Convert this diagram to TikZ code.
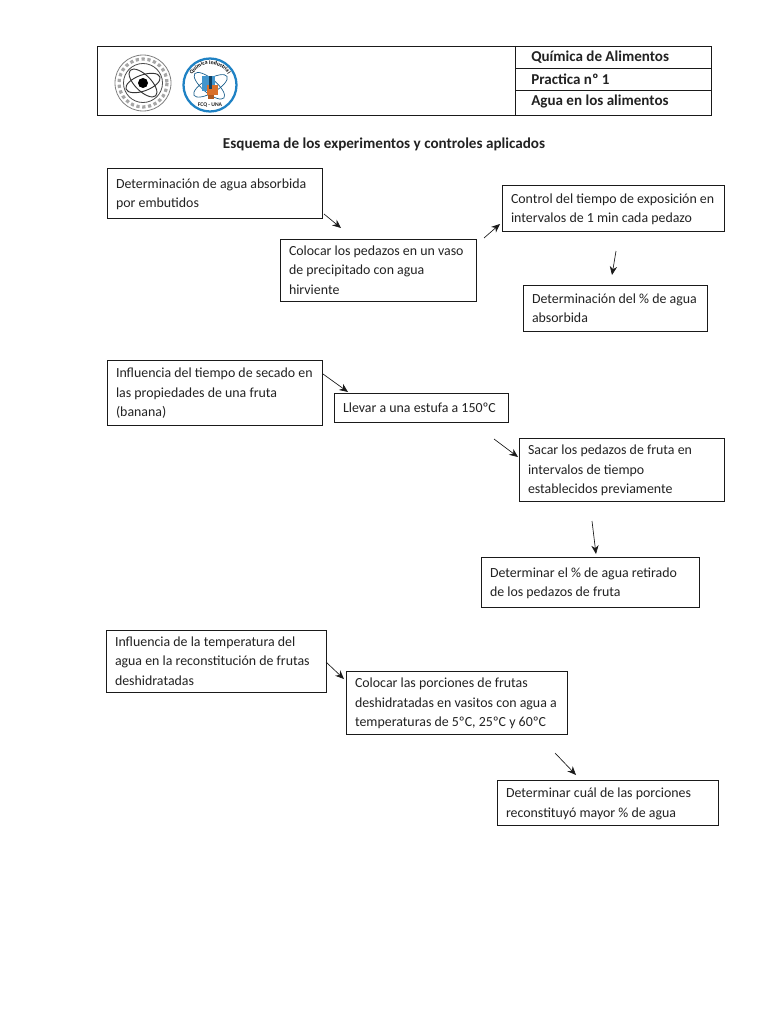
\documentclass[tikz,border=0pt]{standalone}
\usepackage{fontspec}
\setmainfont{Carlito}
\usetikzlibrary{arrows.meta,decorations.text}
\definecolor{lineblk}{HTML}{1A1A1A}
\definecolor{txt}{HTML}{222222}
\definecolor{logoblue}{HTML}{1F82C4}
\definecolor{logoorange}{HTML}{D9702A}
\tikzset{
  flowbox/.style={draw=lineblk,line width=0.6pt,fill=white,align=left,text=txt,inner sep=0pt,font=\fontsize{10.42}{14.6}\selectfont},
  flowarrow/.style={draw=lineblk,line width=0.5pt,-{Stealth[length=6.5pt,width=5.5pt]}},
  headcell/.style={anchor=west,inner sep=0pt,text=txt,font=\fontsize{11.3}{13}\selectfont\bfseries},
  rule/.style={draw=lineblk,line width=0.6pt},
}
\newcommand{\bx}[6]{%
  \pgfmathsetmacro{\bw}{(#4-#2)*0.75}%
  \pgfmathsetmacro{\bh}{(#5-#3)*0.75}%
  \pgfmathsetmacro{\tw}{(#4-#2)*0.75-13.5}%
  \node[flowbox,minimum width=\bw pt,minimum height=\bh pt] (#1) at ({(#2+#4)/2},{(#3+#5)/2}) {\makebox[\tw pt][l]{\raisebox{-3.2pt}[0pt][0pt]{\begin{tabular}{@{}l@{}}#6\end{tabular}}}};}
\begin{document}
\begin{tikzpicture}[x=0.75pt,y=-0.75pt]
\useasboundingbox (0,0) rectangle (768,1024);
\fill[white] (0,0) rectangle (768,1024);
% header
\draw[rule] (97,46) rectangle (711,115);
\draw[rule] (515,46) -- (515,115);
\draw[rule] (515,68) -- (711,68);
\draw[rule] (515,90) -- (711,90);
\node[headcell] (h1) at (531,57) {Química de Alimentos};
\node[headcell] (h2) at (531,79) {Practica nº 1};
\node[headcell] (h3) at (531,101) {Agua en los alimentos};
% left logo
\begin{scope}[shift={(143,83)}]
  \draw[gray,line width=0.6pt] (0,0) circle (28);
  \draw[gray!70,line width=2.4pt,dotted] (0,0) circle (24);
  \draw[black!70,line width=0.6pt] (0,0) circle (19.5);
  \draw[black!80,line width=0.7pt,rotate=20] (0,0) ellipse (18 and 8);
  \draw[black!80,line width=0.7pt,rotate=-45] (0,0) ellipse (18 and 8);
  \fill[black] (0,0) circle (5);
\end{scope}
% right logo
\begin{scope}[shift={(210,85)}]
  \fill[white] (0,0) circle (27);
  \draw[logoblue,line width=1.7pt] (0,0) circle (26.5);
  \draw[logoblue!70!black,line width=0.5pt,rotate=30] (0,1) ellipse (19 and 7);
  \draw[logoblue!70!black,line width=0.5pt,rotate=-40] (0,1) ellipse (19 and 7);
  \fill[logoblue!85] (-8,-9) rectangle (5,6);
  \fill[logoorange] (-3,0) rectangle (8,10);
  \fill[logoorange!80!black] (-2,10) rectangle (4,14);
  \fill[logoblue!50!black] (-1,-9) rectangle (2,4);
  \path[decorate,decoration={text along path,text align=center,
    text={|\fontsize{4.2}{5}\selectfont\bfseries|Química Industrial}}]
    (-20.5,3.6) arc[start angle=170,end angle=370,radius=20.8];
  \node[inner sep=0pt,text=txt,font=\fontsize{4.2}{5}\selectfont\bfseries] (fcq) at (0,20.5) {FCQ - UNA};
\end{scope}
% title
\node[inner sep=0pt,text=txt,font=\fontsize{11.35}{13}\selectfont\bfseries] (title) at (384,144.5) {Esquema de los experimentos y controles aplicados};
% boxes
\bx{a1}{107}{168}{322}{218}{Determinación de agua absorbida\\por embutidos}
\bx{a2}{280}{239}{476}{301}{Colocar los pedazos en un vaso\\de precipitado con agua\\hirviente}
\bx{a3}{502}{185}{724}{231}{Control del tiempo de exposición en\\intervalos de 1 min cada pedazo}
\bx{a4}{523}{285}{707}{331}{Determinación del \% de agua\\absorbida}
\bx{b1}{107}{360}{322}{425}{Influencia del tiempo de secado en\\las propiedades de una fruta\\(banana)}
\bx{b2}{334}{393}{508}{422}{Llevar a una estufa a 150ºC}
\bx{b3}{519}{438}{724}{501}{Sacar los pedazos de fruta en\\intervalos de tiempo\\establecidos previamente}
\bx{b4}{481}{557}{699}{607}{Determinar el \% de agua retirado\\de los pedazos de fruta}
\bx{c1}{106}{630}{326}{692}{Influencia de la temperatura del\\agua en la reconstitución de frutas\\deshidratadas}
\bx{c2}{346}{671}{567}{734}{Colocar las porciones de frutas\\deshidratadas en vasitos con agua a\\temperaturas de 5ºC, 25ºC y 60ºC}
\bx{c3}{497}{780}{718}{825}{Determinar cuál de las porciones\\reconstituyó mayor \% de agua}
% arrow ends
\coordinate (p1s) at (324,214); \coordinate (p1e) at (341,228);
\coordinate (p2s) at (484,238); \coordinate (p2e) at (500,224);
\coordinate (p3s) at (616,251); \coordinate (p3e) at (612,275);
\coordinate (q1s) at (323,374); \coordinate (q1e) at (348,392);
\coordinate (q2s) at (494,439); \coordinate (q2e) at (518,457);
\coordinate (q3s) at (592,521); \coordinate (q3e) at (596,554);
\coordinate (r1s) at (326,662); \coordinate (r1e) at (344,679);
\coordinate (r2s) at (555,753); \coordinate (r2e) at (576,775);
\foreach \s/\e in {p1s/p1e,p2s/p2e,p3s/p3e,q1s/q1e,q2s/q2e,q3s/q3e,r1s/r1e,r2s/r2e}
  \draw[flowarrow] (\s) -- (\e);
\end{tikzpicture}
\end{document}
